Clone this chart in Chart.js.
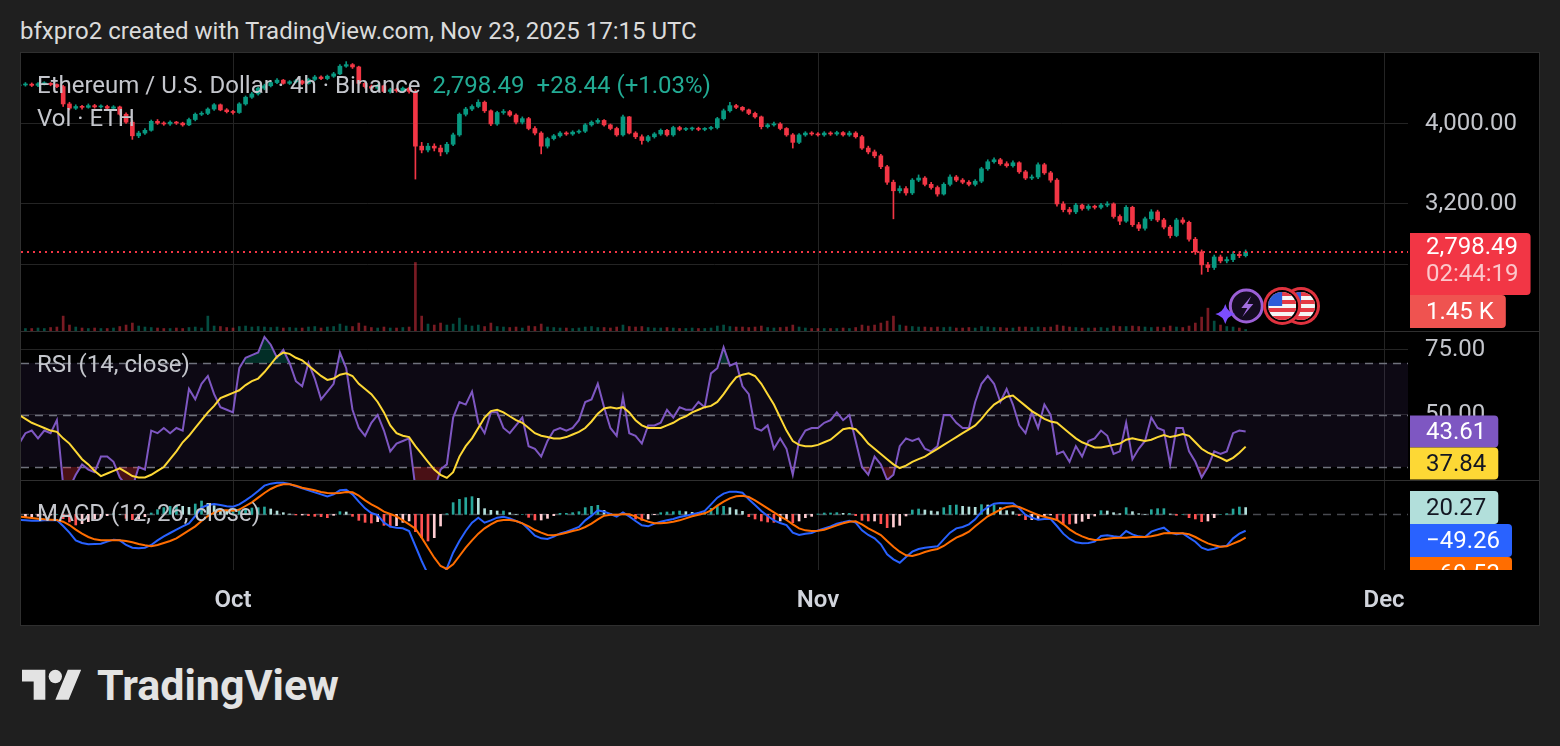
<!DOCTYPE html>
<html lang="en">
<head>
<meta charset="utf-8" />
<title>Ethereum / U.S. Dollar · 4h · Binance</title>
<script src="https://cdn.jsdelivr.net/npm/chart.js@4.4.1/dist/chart.umd.min.js"></script>
<style>
  body { margin: 0; width: 1560px; height: 746px; background: #1f1f1f; overflow: hidden; font-family: Roboto, "Noto Sans", sans-serif; }
  #header { position: absolute; left: 20px; top: 17px; font-size: 24px; line-height: 28px; font-weight: 400; color: #dbdbdb; white-space: nowrap; }
  #panel { position: absolute; left: 20px; top: 52px; width: 1520px; height: 574px; box-sizing: border-box; border: 1px solid #2f2f2f; background: #000; }
  #panel canvas { position: absolute; left: 0; }
  #priceCanvas { top: 0; }
  #rsiCanvas { top: 279px; }
  #macdCanvas { top: 428px; }
  .sep { position: absolute; left: 0; width: 1518px; height: 1px; background: #2f2f2f; }
  .legend { position: absolute; left: 16px; font-size: 24px; line-height: 28px; color: #c4c6cc; white-space: nowrap; z-index: 2; }
  .legend .val { color: #22ab94; margin-left: 12px; }
  #logo { position: absolute; left: 22px; top: 663px; }
  #logoText { position: absolute; left: 97px; top: 664px; font-size: 43px; line-height: 43px; font-weight: 700; color: #e3e3e3; }
</style>
</head>
<body>
<div id="header">bfxpro2 created with TradingView.com, Nov 23, 2025 17:15 UTC</div>
<div id="panel">
  <canvas id="priceCanvas" width="1518" height="278"></canvas>
  <div class="sep" style="top:278px"></div>
  <canvas id="rsiCanvas" width="1518" height="148"></canvas>
  <div class="sep" style="top:427px"></div>
  <canvas id="macdCanvas" width="1518" height="144"></canvas>
  <div class="legend" style="top:18px">Ethereum / U.S. Dollar · 4h · Binance<span class="val" id="lastPrice"></span><span class="val" id="priceChange"></span></div>
  <div class="legend" style="top:51px">Vol · ETH</div>
  <div class="legend" style="top:297px">RSI (14, close)</div>
  <div class="legend" style="top:446px">MACD (12, 26, close)</div>
</div>
<svg id="logo" width="60" height="47" viewBox="0 0 36 28">
  <path d="M14 22H7V11H0V4h14v18zM28 22h-8l7.5-18h8L28 22z" fill="#e3e3e3" />
  <circle cx="20" cy="8" r="4" fill="#e3e3e3" />
</svg>
<div id="logoText">TradingView</div>

<script>
// Candle timing: 8h candles, day 0 = Oct 1 00:00 UTC
const firstDay = -11 - 1 / 3;
const stepDays = 1 / 3;
const firstOpen = 4450;

// Closing prices (USD)
const closes = [
  4460, 4470, 4455, 4475, 4480, 4465, 4440, 4230, 4180, 4200, 4190, 4210,
  4195, 4200, 4180, 4195, 4110, 4020, 3870, 3900, 3930, 4030, 4010, 4000,
  4020, 4010, 3990, 4050, 4110, 4120, 4170, 4220, 4160, 4140, 4130, 4230,
  4310, 4350, 4420, 4450, 4490, 4520, 4480, 4500, 4510, 4480, 4530, 4560,
  4540, 4570, 4600, 4700, 4720, 4690, 4480, 4440, 4420, 4450, 4380, 4400,
  4390, 4420, 4380, 3760, 3720, 3760, 3740, 3700, 3780, 3880, 4110, 4170,
  4200, 4250, 4150, 4000, 4130, 4140, 4100, 4020, 4060, 3950, 3900, 3760,
  3840, 3870, 3900, 3890, 3910, 3920, 3990, 4020, 4040, 3990, 3950, 3880,
  4080, 3900, 3860, 3820, 3860, 3890, 3930, 3880, 3960, 3940, 3945, 3950,
  3940, 3950, 3960, 4060, 4150, 4210, 4190, 4160, 4120, 4080, 3970, 3990,
  4000, 3950, 3880, 3800, 3880, 3900, 3890, 3880, 3900, 3890, 3905, 3880,
  3900, 3860, 3740, 3700, 3660, 3550, 3400, 3320, 3340, 3300, 3420, 3440,
  3380, 3350, 3290, 3380, 3450, 3420, 3400, 3380, 3410, 3530, 3600, 3620,
  3580, 3560, 3590, 3500, 3440, 3450, 3570, 3490, 3420, 3200, 3150, 3130,
  3190, 3160, 3180, 3170, 3190, 3200, 3090, 3050, 3170, 3020, 2990, 3070,
  3130, 3060, 3000, 2930, 3060, 3040, 2900, 2800, 2700, 2680, 2760, 2730,
  2740, 2780, 2770, 2798.49,
];

const highs = [
  4480, 4490, 4485, 4490, 4500, 4490, 4475, 4455, 4250, 4220, 4215, 4230,
  4225, 4220, 4215, 4210, 4205, 4125, 4040, 3920, 3950, 4045, 4050, 4025,
  4035, 4030, 4020, 4065, 4125, 4140, 4185, 4235, 4230, 4175, 4155, 4245,
  4325, 4370, 4435, 4470, 4505, 4540, 4530, 4515, 4530, 4520, 4545, 4580,
  4575, 4585, 4620, 4720, 4760, 4735, 4700, 4500, 4460, 4470, 4460, 4420,
  4420, 4435, 4430, 4400, 3800, 3790, 3785, 3770, 3800, 3900, 4125, 4190,
  4220, 4280, 4265, 4160, 4145, 4165, 4155, 4115, 4080, 4075, 3970, 3915,
  3855, 3885, 3915, 3915, 3925, 3935, 4005, 4035, 4060, 4050, 4000, 3965,
  4100, 4085, 3915, 3880, 3875, 3905, 3945, 3940, 3975, 3975, 3960, 3965,
  3965, 3960, 3975, 4075, 4170, 4250, 4225, 4200, 4170, 4135, 4090, 4005,
  4020, 4015, 3960, 3895, 3895, 3915, 3915, 3905, 3915, 3915, 3920, 3915,
  3920, 3915, 3875, 3760, 3720, 3675, 3565, 3420, 3365, 3360, 3435, 3470,
  3455, 3400, 3365, 3395, 3470, 3465, 3435, 3415, 3425, 3545, 3620, 3640,
  3635, 3600, 3610, 3600, 3515, 3470, 3590, 3585, 3505, 3435, 3220, 3170,
  3205, 3200, 3195, 3190, 3205, 3220, 3210, 3105, 3185, 3180, 3040, 3085,
  3150, 3145, 3075, 3015, 3075, 3080, 3050, 2915, 2815, 2720, 2775, 2775,
  2760, 2800, 2800, 2815,
];

const lows = [
  4435, 4445, 4440, 4440, 4460, 4450, 4425, 4200, 4160, 4165, 4170, 4180,
  4180, 4180, 4165, 4170, 4100, 4005, 3832, 3850, 3885, 3920, 3995, 3985,
  3985, 3995, 3975, 3980, 4035, 4095, 4105, 4155, 4150, 4125, 4110, 4120,
  4215, 4295, 4335, 4400, 4435, 4475, 4470, 4465, 4485, 4465, 4470, 4515,
  4525, 4525, 4555, 4590, 4685, 4670, 4460, 4420, 4400, 4405, 4365, 4360,
  4370, 4375, 4360, 3430, 3690, 3700, 3710, 3660, 3680, 3765, 3865, 4090,
  4150, 4185, 4130, 3980, 3985, 4110, 4085, 4000, 4000, 3935, 3880, 3680,
  3740, 3825, 3855, 3875, 3875, 3895, 3905, 3975, 4005, 3975, 3935, 3865,
  3865, 3890, 3840, 3780, 3805, 3845, 3875, 3865, 3865, 3925, 3925, 3930,
  3925, 3925, 3935, 3945, 4045, 4135, 4175, 4145, 4105, 4065, 3945, 3955,
  3975, 3935, 3865, 3740, 3785, 3865, 3875, 3865, 3865, 3875, 3875, 3865,
  3865, 3845, 3725, 3680, 3640, 3530, 3380, 3070, 3300, 3280, 3285, 3405,
  3365, 3335, 3270, 3280, 3365, 3405, 3385, 3365, 3365, 3395, 3515, 3585,
  3565, 3545, 3545, 3485, 3425, 3425, 3435, 3475, 3400, 3180, 3130, 3110,
  3115, 3145, 3145, 3155, 3155, 3175, 3075, 3020, 3040, 3005, 2970, 2975,
  3055, 3045, 2985, 2910, 2920, 3025, 2885, 2780, 2630, 2650, 2665, 2715,
  2715, 2725, 2755, 2760,
];

// Volume per candle (thousand ETH)
const volumes = [
  12, 10, 10, 12, 10, 14, 16, 60, 24, 16, 12, 10,
  12, 10, 10, 12, 18, 24, 32, 20, 16, 14, 12, 10,
  10, 12, 10, 14, 16, 12, 60, 20, 18, 14, 12, 18,
  20, 16, 18, 16, 14, 16, 12, 14, 12, 12, 16, 18,
  12, 16, 18, 28, 20, 18, 32, 20, 14, 12, 16, 12,
  12, 14, 16, 276, 60, 28, 24, 32, 24, 28, 52, 24,
  20, 24, 18, 32, 18, 16, 14, 16, 12, 20, 18, 28,
  16, 14, 12, 12, 10, 12, 16, 18, 14, 14, 12, 16,
  24, 18, 16, 18, 14, 12, 12, 14, 12, 10, 10, 12,
  10, 10, 12, 20, 24, 18, 16, 16, 14, 16, 20, 14,
  12, 14, 16, 24, 16, 12, 10, 10, 10, 10, 10, 12,
  10, 14, 24, 20, 24, 32, 40, 60, 24, 20, 18, 16,
  16, 14, 16, 14, 16, 12, 12, 14, 12, 18, 16, 14,
  14, 12, 12, 16, 16, 14, 16, 14, 16, 24, 20, 16,
  14, 12, 12, 12, 14, 12, 20, 18, 18, 20, 18, 16,
  14, 16, 14, 20, 16, 14, 20, 32, 56, 92, 40, 24,
  18, 16, 12, 6,
];

// RSI (14) and its moving average
const rsiValues = [
  39, 43, 44, 41, 44, 43, 48, 23, 22, 27, 31, 29,
  28, 34, 34, 32, 26, 23, 22, 30, 29, 44, 43, 45,
  43, 45, 44, 60, 56, 62, 65, 58, 53, 52, 51, 68,
  72, 73, 74, 80, 77, 72, 75, 70, 63, 61, 70, 64,
  56, 59, 62, 74, 68, 52, 45, 42, 47, 50, 44, 36,
  39, 40, 41, 22, 20, 22, 21, 29, 31, 49, 55, 54,
  59, 47, 43, 51, 51, 45, 43, 46, 49, 38, 37, 34,
  40, 44, 45, 44, 45, 48, 55, 56, 62, 53, 45, 42,
  57, 43, 42, 39, 46, 46, 47, 52, 49, 53, 52, 52,
  55, 53, 66, 68, 76, 69, 70, 61, 58, 45, 44, 46,
  37, 41, 37, 27, 40, 44, 45, 45, 47, 48, 51, 48,
  50, 40, 30, 27, 34, 31, 25, 27, 38, 41, 40, 41,
  37, 36, 38, 50, 50, 47, 45, 45, 55, 62, 65, 62,
  55, 60, 54, 46, 43, 51, 45, 54, 50, 35, 36, 32,
  38, 34, 40, 41, 44, 42, 35, 36, 47, 33, 37, 40,
  49, 45, 44, 31, 45, 45, 36, 32, 26, 30, 36, 35,
  36, 43, 44, 43.61,
];

const rsiMa = [
  50, 48.5, 47, 46, 45, 44, 43.5, 41, 39, 36, 33, 31,
  28.5, 26.5, 27.5, 28.5, 29.5, 28, 26.5, 26, 26, 27, 28.5, 30,
  33, 36, 39.5, 42, 45, 48, 51, 53.5, 56.5, 57.5, 58.5, 59.5,
  61.5, 63, 64, 66.5, 69.5, 72.5, 74, 73.5, 72, 71, 69, 67,
  65, 63.5, 64, 65.5, 66, 65, 62, 60, 58, 55, 51, 46,
  43, 42, 41.5, 38, 35, 32, 29, 27, 25.8, 28, 34, 38,
  41, 45, 49, 51.5, 52, 51, 49.5, 48, 47, 45, 43, 42,
  41.5, 41, 41, 41.5, 42.5, 43.5, 45, 47.5, 50.5, 52.5, 53, 52.5,
  53, 51, 48, 46, 45, 45, 45, 46, 47, 48.5, 49.5, 51,
  52, 53, 53.5, 55, 58, 61.5, 64.5, 65.5, 66, 65, 62, 58,
  54, 49, 44, 40, 38.5, 38, 38, 38.5, 39.5, 40.5, 42.5, 44.5,
  45, 44.5, 42, 39, 37, 35, 33, 31, 29.6, 30.5, 32, 33,
  34, 35.5, 37, 38.5, 40, 41.5, 43, 44.5, 46, 48.5, 51.5, 54,
  55.5, 57, 57.5, 55.5, 53.5, 51.5, 50, 48.5, 47.5, 47, 45, 43,
  41, 39.5, 38.5, 37.5, 37.5, 38, 38.5, 39, 40.5, 41, 40.5, 40,
  40.5, 41.5, 42.3, 41.5, 42, 42.7, 42, 39.5, 37, 35.5, 34.5, 33.5,
  32.3, 33.5, 35.5, 37.84,
];

// MACD (12, 26) line and signal line
const macdLine = [
  -17, -18, -19, -19, -18, -18, -17, -35, -55, -78, -86, -90,
  -89, -88, -82, -76, -78, -92, -100, -102, -100, -92, -78, -66,
  -56, -46, -36, -27, -5, 20, 28, 31, 28, 24, 23, 30,
  42, 55, 70, 86, 92, 95, 95, 91, 84, 78, 72, 66,
  60, 54, 60, 72, 74, 60, 38, 18, 4, -2, -25, -37,
  -40, -42, -50, -95, -140, -180, -200, -190, -162, -115, -80, -50,
  -25, -10, -25, -18, -10, -7, -12, -20, -27, -45, -64, -72,
  -74, -67, -57, -52, -45, -38, -18, -4, 12, 8, 1, -7,
  6, -6, -20, -33, -36, -28, -22, -18, -14, -8, -4, 0,
  4, 10, 30, 50, 62, 68, 68, 65, 45, 28, 10, -5,
  -18, -26, -32, -55, -62, -58, -56, -48, -42, -36, -28, -24,
  -19, -25, -48, -62, -72, -90, -120, -135, -145, -128, -112, -104,
  -100, -98, -96, -75, -55, -42, -38, -30, -15, 8, 22, 32,
  34, 33, 33, 18, -2, -10, -16, -14, -14, -35, -58, -74,
  -84, -87, -86, -82, -65, -63, -66, -68, -50, -60, -66, -68,
  -52, -45, -40, -55, -60, -57, -70, -82, -100, -107, -103, -97,
  -94, -72, -58, -49.26,
];

const signalLine = [
  -7, -9, -11, -13, -15, -16, -17, -22, -32, -46, -58, -68,
  -75, -78, -78, -78, -78, -80, -84, -89, -93, -96, -92, -86,
  -80, -72, -60, -48, -36, -20, -5, 5, 12, 12, 11, 14,
  25, 36, 50, 64, 76, 85, 90, 90, 86, 80, 76, 72,
  67, 64, 63, 64, 67, 66, 56, 42, 30, 20, 8, 1,
  -6, -18, -30, -43, -70, -100, -130, -155, -164, -150, -125, -100,
  -78, -58, -42, -30, -20, -17, -17, -20, -27, -36, -47, -55,
  -62, -63, -60, -55, -50, -46, -38, -28, -15, -4, -1, -1,
  0, 0, -6, -15, -22, -27, -27, -25, -22, -18, -12, -6,
  -1, 3, 12, 26, 38, 48, 54, 56, 52, 42, 30, 18,
  6, -6, -17, -30, -42, -48, -50, -49, -46, -40, -33, -27,
  -22, -21, -30, -42, -52, -62, -80, -97, -112, -123, -125, -120,
  -113, -108, -104, -95, -82, -70, -62, -52, -36, -21, -6, 4,
  14, 22, 25, 22, 14, 6, -2, -7, -12, -17, -30, -45,
  -57, -66, -73, -77, -76, -73, -71, -70, -70, -68, -68, -68,
  -66, -62, -57, -56, -57, -57, -60, -68, -78, -87, -93, -97,
  -96, -88, -80, -69.53,
];

// Axis ticks
const timeTicks = [0, 31, 61];
const timeLabels = ["Oct", "Nov", "Dec"];
const priceTicks = [2700, 3200, 4000];
const rsiTicks = [50, 75];
const rsiLevels = [70, 50, 30];

// Texts shown next to the last values
const priceChange = "+28.44 (+1.03%)";
const countdown = "02:44:19";
const lastVolumeLabel = "1.45 K";

// Visible ranges of each pane
const xMin = -11.235;
const xMax = 62.27;
const priceMin = 2245;
const priceMax = 4876;
const volMax = 1120;
const rsiMin = 25;
const rsiMax = 81.9;
const macdMin = -167;
const macdMax = 100;

const upColor = "#089981";
const downColor = "#f23645";
const gridColor = "#242424";
const axisWidth = 131;
const tagFont = "24px Roboto, 'Noto Sans', sans-serif";

Chart.defaults.font.family = "Roboto, 'Noto Sans', sans-serif";
Chart.defaults.color = "#c3c5cb";

// Function to format a number like the price scale
function fmt2(v) {
  return v
    .toLocaleString("en-US", { minimumFractionDigits: 2, maximumFractionDigits: 2 })
    .replace("-", "\u2212");
}

function candleDay(i) {
  return firstDay + i * stepDays;
}

// Shared time axis (labels only on the bottom pane)
function timeScale(showLabels) {
  return {
    type: "linear",
    min: xMin,
    max: xMax,
    offset: false,
    grid: { display: false },
    border: { display: false },
    ticks: {
      display: showLabels,
      color: "#d1d4dc",
      font: { size: 24, weight: "600" },
      padding: 9,
      autoSkip: false,
      maxRotation: 0,
      callback: (v) => {
        const k = timeTicks.indexOf(v);
        return k >= 0 ? timeLabels[k] : "";
      },
    },
    afterBuildTicks: (s) => {
      s.ticks = timeTicks.map((v) => ({ value: v }));
    },
    afterFit: (s) => {
      s.height = showLabels ? 55 : 0;
      s.paddingLeft = 0;
      s.paddingRight = 0;
    },
  };
}

function fixRightAxis(s) {
  s.width = axisWidth;
  s.paddingTop = 0;
  s.paddingBottom = 0;
}

// Vertical month lines, drawn under the data in every pane
const monthLines = {
  id: "monthLines",
  beforeDatasetsDraw(chart) {
    const { ctx, chartArea: a, scales } = chart;
    ctx.save();
    ctx.strokeStyle = gridColor;
    ctx.lineWidth = 1;
    timeTicks.forEach((d) => {
      const x = Math.round(scales.x.getPixelForValue(d)) + 0.5;
      ctx.beginPath();
      ctx.moveTo(x, a.top);
      ctx.lineTo(x, a.bottom);
      ctx.stroke();
    });
    ctx.restore();
  },
};

function baseOptions(showTime, yScale, extraScales) {
  return {
    responsive: false,
    animation: false,
    events: [],
    layout: { padding: 0 },
    plugins: { legend: { display: false }, tooltip: { enabled: false } },
    scales: Object.assign({ x: timeScale(showTime), y: yScale }, extraScales || {}),
  };
}

// Function to draw a value tag on the right scale
function drawTag(ctx, x, top, h, color, lines, textColor) {
  ctx.save();
  ctx.font = tagFont;
  const w = Math.max(...lines.map((t) => ctx.measureText(t).width)) + 28;
  ctx.fillStyle = color;
  ctx.beginPath();
  ctx.roundRect(x, top, w, h, [0, 4, 4, 0]);
  ctx.fill();
  ctx.textBaseline = "middle";
  ctx.textAlign = "left";
  if (lines.length === 1) {
    ctx.fillStyle = textColor;
    ctx.fillText(lines[0], x + 16, top + h / 2 + 1);
  } else {
    ctx.fillStyle = textColor;
    ctx.fillText(lines[0], x + 16, top + 15);
    ctx.fillStyle = "rgba(255,255,255,0.72)";
    ctx.fillText(lines[1], x + 16, top + 42);
  }
  ctx.restore();
}

// Function to stack tags so they do not overlap
function stackTags(tags, h) {
  let prevBottom = -Infinity;
  tags.forEach((t) => {
    t.top = Math.max(t.center - h / 2, prevBottom);
    prevBottom = t.top + h;
  });
  return tags;
}

function histColor(h, prev) {
  if (h >= 0) return h >= prev ? "#26a69a" : "#b2dfdb";
  return h < prev ? "#ff5252" : "#ffcdd2";
}

// Economic event markers at the bottom of the price pane
function drawEvents(chart) {
  const { ctx, scales, chartArea } = chart;
  const cy = chartArea.bottom - 25;
  const boltX = scales.x.getPixelForValue(53.7);
  const flagBackX = scales.x.getPixelForValue(56.6);
  const flagFrontX = scales.x.getPixelForValue(55.6);

  ctx.save();
  // lightning
  ctx.beginPath();
  ctx.arc(boltX, cy, 16, 0, Math.PI * 2);
  ctx.fillStyle = "#140b20";
  ctx.fill();
  ctx.lineWidth = 3;
  ctx.strokeStyle = "#9b5fd6";
  ctx.stroke();
  ctx.beginPath();
  ctx.moveTo(boltX + 5, cy - 10);
  ctx.lineTo(boltX - 5, cy + 2);
  ctx.lineTo(boltX + 1, cy + 2);
  ctx.lineTo(boltX - 4, cy + 11);
  ctx.lineTo(boltX + 7, cy - 2);
  ctx.lineTo(boltX + 1, cy - 2);
  ctx.closePath();
  ctx.fillStyle = "#a36ee0";
  ctx.fill();

  // sparkle
  const sx = boltX - 21;
  const sy = cy + 8;
  ctx.beginPath();
  ctx.moveTo(sx, sy - 10);
  ctx.quadraticCurveTo(sx + 2, sy - 2, sx + 10, sy);
  ctx.quadraticCurveTo(sx + 2, sy + 2, sx, sy + 10);
  ctx.quadraticCurveTo(sx - 2, sy + 2, sx - 10, sy);
  ctx.quadraticCurveTo(sx - 2, sy - 2, sx, sy - 10);
  ctx.fillStyle = "#7c4dff";
  ctx.fill();

  [flagBackX, flagFrontX].forEach((fx) => {
    ctx.save();
    ctx.beginPath();
    ctx.arc(fx, cy, 19, 0, Math.PI * 2);
    ctx.fillStyle = "#e0323e";
    ctx.fill();
    ctx.beginPath();
    ctx.arc(fx, cy, 16, 0, Math.PI * 2);
    ctx.fillStyle = "#000";
    ctx.fill();
    ctx.beginPath();
    ctx.arc(fx, cy, 14, 0, Math.PI * 2);
    ctx.clip();
    ctx.fillStyle = "#f5f5f5";
    ctx.fillRect(fx - 14, cy - 14, 28, 28);
    ctx.fillStyle = "#e53945";
    for (let k = 0; k < 7; k += 2) ctx.fillRect(fx - 14, cy - 14 + k * 4, 28, 4);
    ctx.fillStyle = "#2d5bd8";
    ctx.fillRect(fx - 14, cy - 14, 14, 14);
    ctx.restore();
  });
  ctx.restore();
}

// Price pane overlay: last price line, markers, tags
const priceOverlay = {
  id: "priceOverlay",
  afterDatasetsDraw(chart) {
    const { ctx, chartArea, scales } = chart;
    const y = scales.y.getPixelForValue(closes[closes.length - 1]);
    ctx.save();
    ctx.strokeStyle = downColor;
    ctx.lineWidth = 2;
    ctx.setLineDash([2, 4]);
    ctx.beginPath();
    ctx.moveTo(chartArea.left, y);
    ctx.lineTo(chartArea.right, y);
    ctx.stroke();
    ctx.restore();
    drawEvents(chart);
  },
  afterDraw(chart) {
    const { ctx, chartArea, scales } = chart;
    const y = scales.y.getPixelForValue(closes[closes.length - 1]);
    const x = chartArea.right + 2;
    drawTag(ctx, x, y - 19, 62, downColor, [fmt2(closes[closes.length - 1]), countdown], "#fff");
    drawTag(ctx, x, y + 43, 33, "#ef5350", [lastVolumeLabel], "#fff");
  },
};

// RSI pane overlay: band, level lines, tags
const rsiOverlay = {
  id: "rsiOverlay",
  beforeDatasetsDraw(chart) {
    const { ctx, chartArea: a, scales } = chart;
    const top = scales.y.getPixelForValue(rsiLevels[0]);
    const bottom = scales.y.getPixelForValue(rsiLevels[2]);
    ctx.save();
    ctx.fillStyle = "rgba(126, 87, 194, 0.1)";
    ctx.fillRect(a.left, top, a.right - a.left, bottom - top);
    ctx.strokeStyle = "#6f727c";
    ctx.lineWidth = 1.5;
    ctx.setLineDash([8, 6]);
    rsiLevels.forEach((level) => {
      const y = Math.round(scales.y.getPixelForValue(level)) + 0.5;
      ctx.beginPath();
      ctx.moveTo(a.left, y);
      ctx.lineTo(a.right, y);
      ctx.stroke();
    });
    ctx.restore();
  },
  afterDraw(chart) {
    const { ctx, chartArea, scales } = chart;
    const x = chartArea.right + 2;
    const rsiLast = rsiValues[rsiValues.length - 1];
    const maLast = rsiMa[rsiMa.length - 1];
    const tags = stackTags(
      [
        { center: scales.y.getPixelForValue(rsiLast), color: "#7e57c2", text: fmt2(rsiLast), ink: "#fff" },
        { center: scales.y.getPixelForValue(maLast), color: "#fdd835", text: fmt2(maLast), ink: "#131722" },
      ],
      32
    );
    tags.forEach((t) => drawTag(ctx, x, t.top, 32, t.color, [t.text], t.ink));
  },
};

// MACD pane overlay: zero line, tags
const macdOverlay = {
  id: "macdOverlay",
  beforeDatasetsDraw(chart) {
    const { ctx, chartArea: a, scales } = chart;
    const y = Math.round(scales.y.getPixelForValue(0)) + 0.5;
    ctx.save();
    ctx.strokeStyle = "rgba(120, 123, 134, 0.6)";
    ctx.lineWidth = 1.5;
    ctx.setLineDash([8, 6]);
    ctx.beginPath();
    ctx.moveTo(a.left, y);
    ctx.lineTo(a.right, y);
    ctx.stroke();
    ctx.restore();
  },
  afterDraw(chart) {
    const { ctx, chartArea, scales } = chart;
    const n = macdLine.length;
    const hist = macdLine[n - 1] - signalLine[n - 1];
    const prevHist = macdLine[n - 2] - signalLine[n - 2];
    const tags = stackTags(
      [
        { center: scales.y.getPixelForValue(hist), color: histColor(hist, prevHist), text: fmt2(hist), ink: "#131722" },
        { center: scales.y.getPixelForValue(macdLine[n - 1]), color: "#2962ff", text: fmt2(macdLine[n - 1]), ink: "#fff" },
        { center: scales.y.getPixelForValue(signalLine[n - 1]), color: "#ff6d00", text: fmt2(signalLine[n - 1]), ink: "#fff" },
      ],
      33
    );
    ctx.save();
    ctx.beginPath();
    ctx.rect(chartArea.right, chartArea.top, chart.width - chartArea.right, chartArea.bottom - chartArea.top);
    ctx.clip();
    tags.forEach((t) => drawTag(ctx, chartArea.right + 2, t.top, 33, t.color, [t.text], t.ink));
    ctx.restore();
  },
};

function buildPriceChart() {
  const opens = closes.map((c, i) => (i === 0 ? firstOpen : closes[i - 1]));
  const colors = closes.map((c, i) => (c >= opens[i] ? upColor : downColor));
  const volColors = closes.map((c, i) => (c >= opens[i] ? "rgba(8,153,129,0.5)" : "rgba(242,54,69,0.5)"));

  const yScale = {
    type: "logarithmic",
    position: "right",
    min: priceMin,
    max: priceMax,
    grid: { color: gridColor, drawTicks: false },
    border: { display: false },
    ticks: {
      color: "#c3c5cb",
      font: { size: 24 },
      padding: 17,
      autoSkip: false,
      callback: (v) => (v === priceTicks[0] ? "" : fmt2(v)),
    },
    afterBuildTicks: (s) => {
      s.ticks = priceTicks.map((v) => ({ value: v }));
    },
    afterFit: fixRightAxis,
  };

  new Chart(document.getElementById("priceCanvas"), {
    type: "bar",
    data: {
      datasets: [
        {
          label: "Bodies",
          data: closes.map((c, i) => ({ x: candleDay(i), y: [opens[i], c] })),
          backgroundColor: colors,
          barThickness: 4,
          minBarLength: 1,
          grouped: false,
          order: 1,
          yAxisID: "y",
        },
        {
          label: "Wicks",
          data: closes.map((c, i) => ({ x: candleDay(i), y: [lows[i], highs[i]] })),
          backgroundColor: colors,
          barThickness: 1,
          grouped: false,
          order: 2,
          yAxisID: "y",
        },
        {
          label: "Volume",
          data: volumes.map((v, i) => ({ x: candleDay(i), y: v })),
          backgroundColor: volColors,
          barThickness: 2,
          grouped: false,
          order: 3,
          yAxisID: "yVol",
        },
      ],
    },
    options: baseOptions(false, yScale, {
      yVol: { type: "linear", display: false, min: 0, max: volMax },
    }),
    plugins: [monthLines, priceOverlay],
  });
}

function buildRsiChart() {
  const rsiPts = rsiValues.map((v, i) => ({ x: candleDay(i), y: v }));
  const maPts = rsiMa.map((v, i) => ({ x: candleDay(i), y: v }));

  const yScale = {
    type: "linear",
    position: "right",
    min: rsiMin,
    max: rsiMax,
    grid: { color: gridColor, drawTicks: false },
    border: { display: false },
    ticks: { color: "#c3c5cb", font: { size: 24 }, padding: 17, autoSkip: false, callback: (v) => fmt2(v) },
    afterBuildTicks: (s) => {
      s.ticks = rsiTicks.map((v) => ({ value: v }));
    },
    afterFit: fixRightAxis,
  };

  new Chart(document.getElementById("rsiCanvas"), {
    type: "line",
    data: {
      datasets: [
        {
          label: "RSI-based MA",
          data: maPts,
          borderColor: "#fdd835",
          borderWidth: 2,
          pointRadius: 0,
          order: 0,
        },
        {
          label: "RSI",
          data: rsiPts,
          borderColor: "#7e57c2",
          borderWidth: 2,
          pointRadius: 0,
          order: 1,
        },
        {
          label: "Overbought fill",
          data: rsiPts,
          borderWidth: 0,
          pointRadius: 0,
          fill: { target: { value: rsiLevels[0] }, above: "rgba(8,153,129,0.3)", below: "rgba(0,0,0,0)" },
          order: 2,
        },
        {
          label: "Oversold fill",
          data: rsiPts,
          borderWidth: 0,
          pointRadius: 0,
          fill: { target: { value: rsiLevels[2] }, above: "rgba(0,0,0,0)", below: "rgba(242,54,69,0.3)" },
          order: 3,
        },
      ],
    },
    options: baseOptions(false, yScale),
    plugins: [monthLines, rsiOverlay],
  });
}

function buildMacdChart() {
  const hist = macdLine.map((m, i) => m - signalLine[i]);
  const histColors = hist.map((h, i) => histColor(h, i === 0 ? h : hist[i - 1]));

  const yScale = {
    type: "linear",
    position: "right",
    min: macdMin,
    max: macdMax,
    grid: { display: false },
    border: { display: false },
    ticks: { display: false },
    afterFit: fixRightAxis,
  };

  new Chart(document.getElementById("macdCanvas"), {
    type: "bar",
    data: {
      datasets: [
        {
          type: "line",
          label: "Signal",
          data: signalLine.map((v, i) => ({ x: candleDay(i), y: v })),
          borderColor: "#ff6d00",
          borderWidth: 2,
          pointRadius: 0,
          order: 0,
        },
        {
          type: "line",
          label: "MACD",
          data: macdLine.map((v, i) => ({ x: candleDay(i), y: v })),
          borderColor: "#2962ff",
          borderWidth: 2,
          pointRadius: 0,
          order: 1,
        },
        {
          type: "bar",
          label: "Histogram",
          data: hist.map((v, i) => ({ x: candleDay(i), y: v })),
          backgroundColor: histColors,
          barThickness: 2,
          grouped: false,
          order: 2,
        },
      ],
    },
    options: baseOptions(true, yScale),
    plugins: [monthLines, macdOverlay],
  });
}

window.onload = function () {
  document.getElementById("lastPrice").textContent = fmt2(closes[closes.length - 1]);
  document.getElementById("priceChange").textContent = priceChange;
  buildPriceChart();
  buildRsiChart();
  buildMacdChart();
};
</script>
</body>
</html>
